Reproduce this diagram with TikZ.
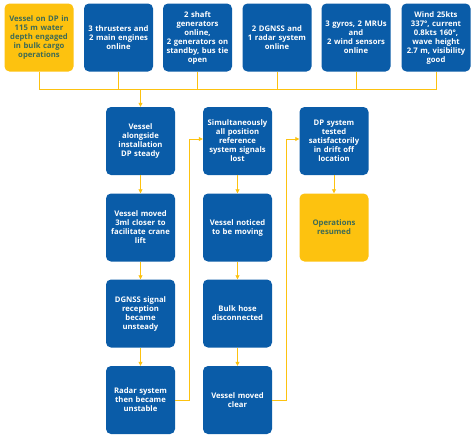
\documentclass[tikz,border=0pt]{standalone}
\usepackage{fontspec}
\setmainfont{Open Sans}
\usepackage{tikz}
\usetikzlibrary{positioning,arrows.meta}
\definecolor{dpblue}{HTML}{0A5CA8}
\definecolor{dpyellow}{HTML}{FDC20F}
\definecolor{dpgreen}{HTML}{3E6B55}

\begin{document}
\begin{tikzpicture}[x=1pt, y=-1pt,
  box/.style={fill=dpblue, rounded corners=5pt, align=center, text=white,
              font=\fontsize{7.7}{9}\selectfont\bfseries,
              text width=64pt, minimum width=69pt, minimum height=68pt, inner sep=2pt},
  ybox/.style={box, fill=dpyellow, text=dpgreen},
  line/.style={draw=dpyellow, line width=0.8pt},
  arr/.style={line, -{Triangle[length=4pt,width=4pt]}}]
\useasboundingbox (0,0) rectangle (474,439);
% starting conditions
\node[ybox] (t1) at (39,37.5)  {Vessel on DP in\\ 115 m water\\ depth engaged\\ in bulk cargo\\ operations};
\node[box]  (t2) at (118.5,37.5) {3 thrusters and\\ 2 main engines\\ online};
\node[box]  (t3) at (197.5,37.5) {2 shaft\\ generators\\ online,\\ 2 generators on\\ standby, bus tie\\ open};
\node[box]  (t4) at (277,37.5) {2 DGNSS and\\ 1 radar system\\ online};
\node[box]  (t5) at (356,37.5) {3 gyros, 2 MRUs\\ and\\ 2 wind sensors\\ online};
\node[box]  (t6) at (436,37.5) {Wind 25kts\\ 337°, current\\ 0.8kts 160°,\\ wave height\\ 2.7 m, visibility\\ good};
\coordinate (bus) at (140.5,89);
% sequence of events
\node[box]  (a1) at (140.5,141)  {Vessel\\ alongside\\ installation\\ DP steady};
\node[box]  (a2) at (140.5,227.5) {Vessel moved\\ 3ml closer to\\ facilitate crane\\ lift};
\node[box]  (a3) at (140.5,313.5) {DGNSS signal\\ reception\\ became\\ unsteady};
\node[box]  (a4) at (140.5,400)  {Radar system\\ then became\\ unstable};
\node[box]  (b1) at (237.5,141)  {Simultaneously\\ all position\\ reference\\ system signals\\ lost};
\node[box]  (b2) at (237.5,227.5) {Vessel noticed\\ to be moving};
\node[box]  (b3) at (237.5,313.5) {Bulk hose\\ disconnected};
\node[box]  (b4) at (237.5,400)  {Vessel moved\\ clear};
\node[box]  (c1) at (334,141)    {DP system\\ tested\\ satisfactorily\\ in drift off\\ location};
\node[ybox] (c2) at (334,227.5)  {Operations\\ resumed};
% connectors
\draw[line] (t1.south) |- (t6.south |- bus) -- (t6.south);
\foreach \n in {t2,t3,t4,t5} \draw[line] (\n.south) -- (\n.south |- bus);
\draw[arr] (bus) -- (a1.north);
\draw[arr] (a1) -- (a2);
\draw[arr] (a2) -- (a3);
\draw[arr] (a3) -- (a4);
\draw[arr] (b1) -- (b2);
\draw[arr] (b2) -- (b3);
\draw[arr] (b3) -- (b4);
\draw[arr] (c1) -- (c2);
\draw[arr] (a4.east) -- ++(14,0) |- ([yshift=2pt]b1.west);
\draw[arr] (b4.east) -- ++(14,0) |- ([yshift=2pt]c1.west);
\end{tikzpicture}
\end{document}
